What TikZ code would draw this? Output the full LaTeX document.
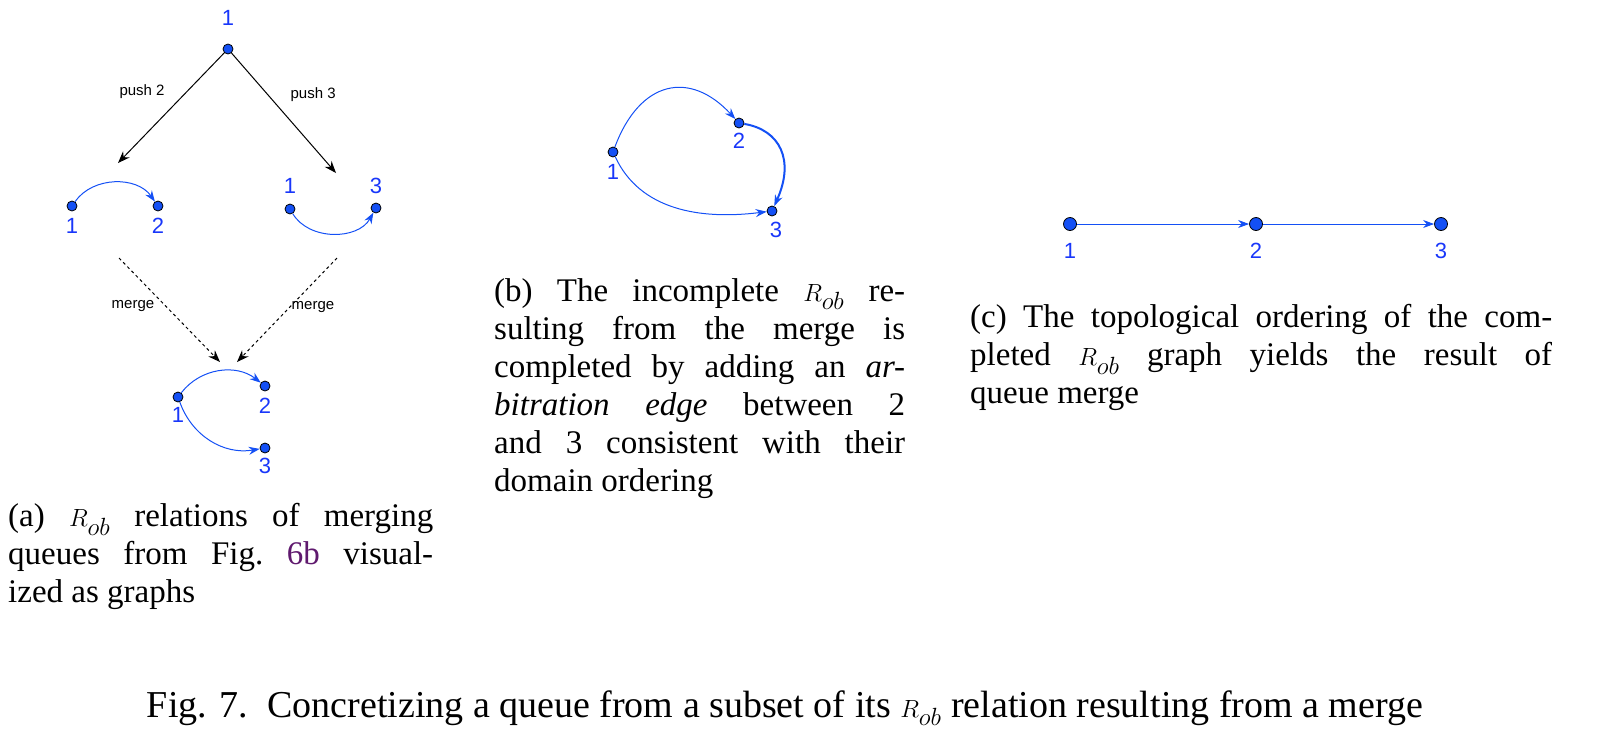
\documentclass[tikz,border=0pt]{standalone}
\usepackage{fontspec}
\setmainfont{Liberation Serif}
\newfontfamily\lab{Liberation Sans}
\usetikzlibrary{arrows.meta}
\definecolor{nb}{RGB}{20,80,245}
\definecolor{tb}{RGB}{25,55,250}
\definecolor{lk}{RGB}{95,25,110}
\tikzset{
 dot/.style={circle,fill=nb,draw=black,line width=0.8pt,inner sep=0pt,minimum size=10pt},
 bigdot/.style={dot,minimum size=13pt},
 lbl/.style={text=tb,font=\lab\fontsize{22}{22}\selectfont,inner sep=0pt},
 sm/.style={font=\lab\fontsize{15}{15}\selectfont,inner sep=0pt},
 be/.style={draw=nb,line width=1pt,-{Stealth[length=11pt,width=8pt]}},
 ke/.style={draw=black,line width=1pt,-{Stealth[length=12pt,width=9pt]}},
 captext/.style={font=\fontsize{33}{38}\selectfont,inner sep=0pt,anchor=north west,align=justify}
}
\begin{document}
\begin{tikzpicture}[x=1pt,y=-1pt]
\useasboundingbox (0,0) rectangle (1600,753);
% (a)
\node[dot] (t) at (228,49) {}; \node[lbl] at (228,18) {1};
\node[dot] (l1) at (72,206) {}; \node[lbl] at (72,226) {1};
\node[dot] (l2) at (158,206) {}; \node[lbl] at (158,226) {2};
\node[dot] (r1) at (290,209) {}; \node[lbl] at (290,186) {1};
\node[dot] (r3) at (376,208) {}; \node[lbl] at (376,186) {3};
\node[dot] (m1) at (178,397) {}; \node[lbl] at (178,415) {1};
\node[dot] (m2) at (265,386) {}; \node[lbl] at (265,406) {2};
\node[dot] (m3) at (265,448) {}; \node[lbl] at (265,466) {3};
\coordinate (pl) at (118,163); \coordinate (pr) at (336,173);
\draw[ke] (t) -- (pl) node[pos=0.35,left=22pt,sm] {push 2};
\draw[ke] (t) -- (pr) node[pos=0.35,right=22pt,sm] {push 3};
\draw[be] (l1) to[bend left=55] (l2);
\draw[be] (r1) to[bend right=60] (r3);
\coordinate (d1) at (119,258); \coordinate (d2) at (220,362);
\coordinate (d3) at (337,258); \coordinate (d4) at (237,362);
\draw[ke,dashed] (d1) -- (d2);
\draw[ke,dashed] (d3) -- (d4);
\node[sm] at (133,306) {merge};
\node[sm] at (313,307) {merge};
\draw[be] (m1) to[bend left=45] (m2);
\draw[be] (m1) to[bend right=40] (m3);
% (b)
\node[dot] (b1) at (613,152) {}; \node[lbl] at (613,172) {1};
\node[dot] (b2) at (739,123) {}; \node[lbl] at (739,141) {2};
\node[dot] (b3) at (772,211) {}; \node[lbl] at (776,230) {3};
\draw[be] (b1) .. controls (640,80) and (690,70) .. (b2);
\draw[be] (b1) .. controls (640,210) and (700,220) .. (b3);
\draw[be,line width=2pt] (b2) .. controls (780,130) and (795,160) .. (b3);
% (c)
\node[bigdot] (c1) at (1070,224) {}; \node[lbl] at (1070,251) {1};
\node[bigdot] (c2) at (1256,224) {}; \node[lbl] at (1256,251) {2};
\node[bigdot] (c3) at (1441,224) {}; \node[lbl] at (1441,251) {3};
\draw[be] (c1) -- (c2);
\draw[be] (c2) -- (c3);
% captions
\node[captext,text width=425pt] (ca) at (8,503) {(a) $R_{ob}$ relations of merging\linebreak queues from Fig.~\textcolor{lk}{6b} visual-\linebreak ized as graphs};
\node[captext,text width=411pt] (cb) at (494,278) {(b) The incomplete $R_{ob}$ re-\linebreak sulting from the merge is\linebreak completed by adding an \textit{ar-}\linebreak \textit{bitration edge} between 2\linebreak and 3 consistent with their\linebreak domain ordering};
\node[captext,text width=582pt] (cc) at (970,304) {(c) The topological ordering of the com-\linebreak pleted $R_{ob}$ graph yields the result of\linebreak queue merge};
\node[font=\fontsize{38}{40}\selectfont,inner sep=0pt] (fc) at (785,708) {Fig. 7.\enspace Concretizing a queue from a subset of its $R_{ob}$ relation resulting from a merge};
\end{tikzpicture}
\end{document}
